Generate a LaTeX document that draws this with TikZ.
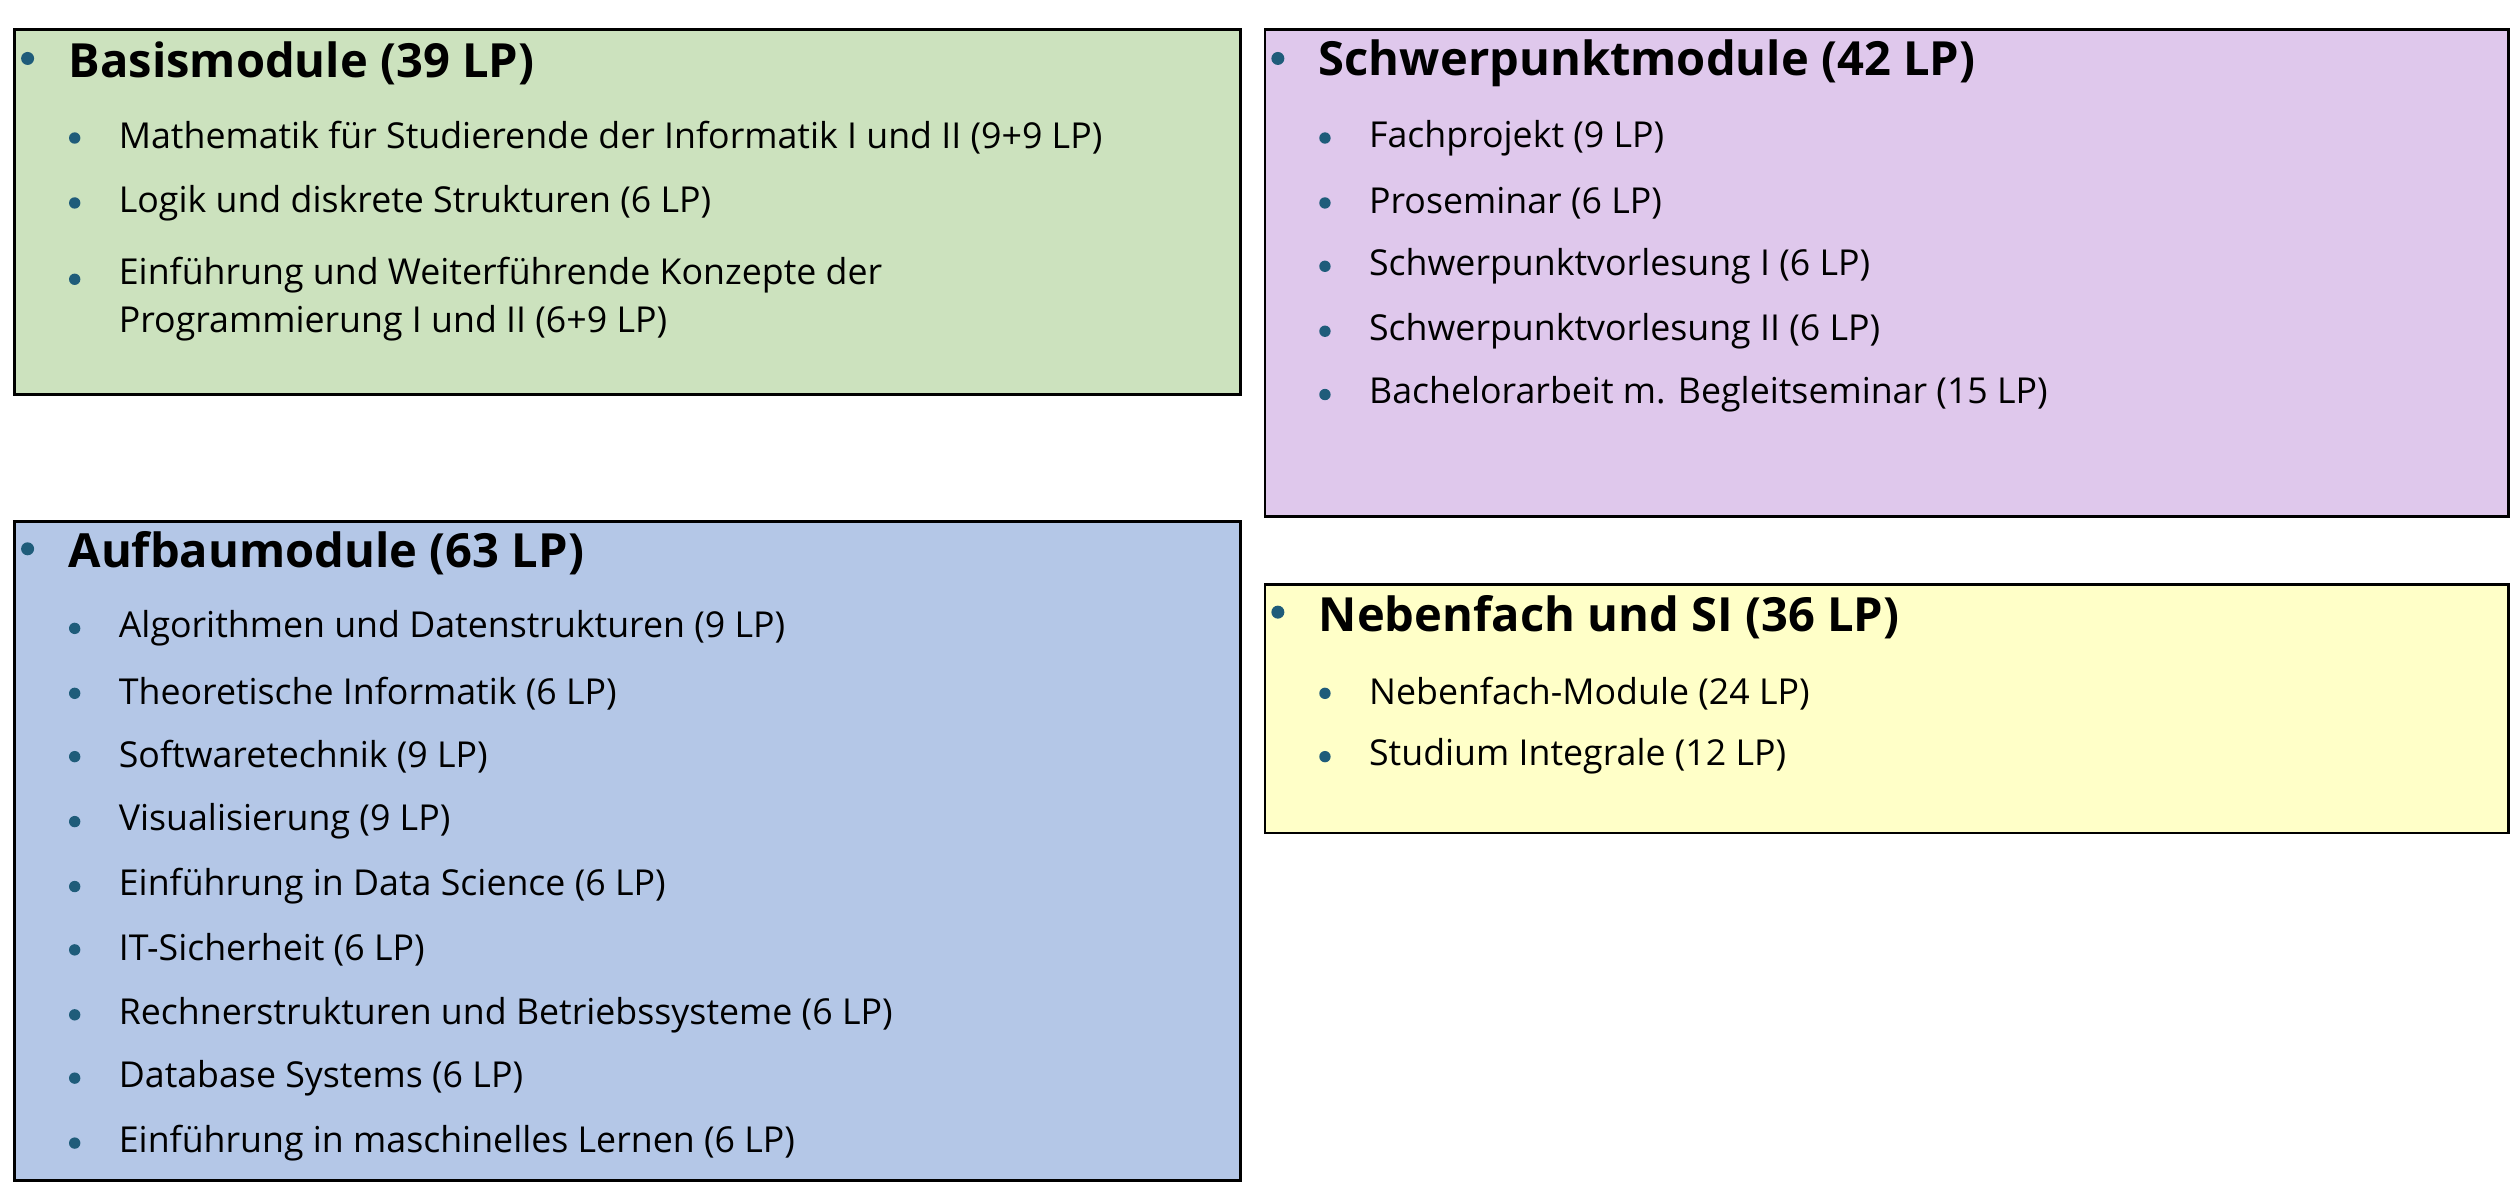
\documentclass[tikz,border=0pt]{standalone}
\usepackage{fontspec}
\setmainfont{Open Sans}
\definecolor{bgreen}{HTML}{CCE2BE}
\definecolor{bpurple}{HTML}{DFC8EC}
\definecolor{bblue}{HTML}{B4C7E7}
\definecolor{byellow}{HTML}{FFFFC8}
\definecolor{bul}{HTML}{1F5C7A}
\tikzset{
  panel/.style={draw=black, line width=1.6pt},
  ttl/.style={anchor=west, inner sep=0pt, font=\fontsize{29}{34}\selectfont\bfseries},
  itm/.style={anchor=west, inner sep=0pt, font=\fontsize{22}{30}\selectfont, align=left},
  dot/.style={fill=bul, circle, inner sep=0pt, minimum size=7pt},
  bigdot/.style={fill=bul, circle, inner sep=0pt, minimum size=8pt}
}
\begin{document}
\begin{tikzpicture}[x=1pt,y=-1pt]
\useasboundingbox (0,0) rectangle (1552,738);
\fill[white] (0,0) rectangle (1552,738);
\draw[panel, fill=bgreen] (9,18) rectangle (764,243);
\draw[panel, fill=bpurple] (779,18) rectangle (1545,318);
\draw[panel, fill=bblue] (9,321) rectangle (764,727);
\draw[panel, fill=byellow] (779,360) rectangle (1545,513);
% titles
\node[bigdot] at (17,36) {}; \node[ttl] (tb) at (42,39) {Basismodule (39 LP)};
\node[bigdot] at (787,36) {}; \node[ttl] (ts) at (812,39) {Schwerpunktmodule (42 LP)};
\node[bigdot] at (17,338) {}; \node[ttl] (ta) at (42,341) {Aufbaumodule (63 LP)};
\node[bigdot] at (787,377) {}; \node[ttl] (tn) at (812,380) {Nebenfach und SI (36 LP)};
% Basis items
\foreach \y/\t [count=\i] in {85/{Mathematik für Studierende der Informatik I und II (9+9 LP)},125/{Logik und diskrete Strukturen (6 LP)}}{
  \node[dot] at (46,\y) {}; \node[itm] (b\i) at (73,\y) {\t};}
\node[dot] at (46,172) {};
\node[itm, anchor=north west] (b3) at (73,158) {Einführung und Weiterführende Konzepte der\\Programmierung I und II (6+9 LP)};
% Schwerpunkt items
\foreach \y/\t [count=\i] in {85/{Fachprojekt (9 LP)},125/{Proseminar (6 LP)},164/{Schwerpunktvorlesung I (6 LP)},204/{Schwerpunktvorlesung II (6 LP)},243/{Bachelorarbeit m. Begleitseminar (15 LP)}}{
  \node[dot] at (816,\y) {}; \node[itm] (s\i) at (843,\y) {\t};}
% Aufbau items
\foreach \y/\t [count=\i] in {387/{Algorithmen und Datenstrukturen (9 LP)},427/{Theoretische Informatik (6 LP)},466/{Softwaretechnik (9 LP)},506/{Visualisierung (9 LP)},546/{Einführung in Data Science (6 LP)},585/{IT-Sicherheit (6 LP)},625/{Rechnerstrukturen und Betriebssysteme (6 LP)},664/{Database Systems (6 LP)},704/{Einführung in maschinelles Lernen (6 LP)}}{
  \node[dot] at (46,\y) {}; \node[itm] (a\i) at (73,\y) {\t};}
% Nebenfach items
\foreach \y/\t [count=\i] in {427/{Nebenfach-Module (24 LP)},466/{Studium Integrale (12 LP)}}{
  \node[dot] at (816,\y) {}; \node[itm] (n\i) at (843,\y) {\t};}
\end{tikzpicture}
\end{document}
